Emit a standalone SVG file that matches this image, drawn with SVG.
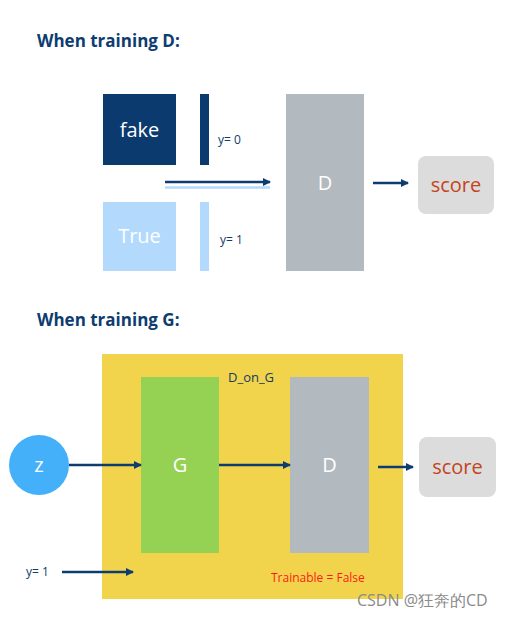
<svg xmlns="http://www.w3.org/2000/svg" width="508" height="618" viewBox="0 0 508 618">
<defs>
<style>
text{font-family:"Open Sans","Noto Sans",sans-serif}
.title{font-size:17px;font-weight:bold;fill:#0e3c70}
.w{fill:#ffffff;font-size:20px;text-anchor:middle}
.lbl{font-size:12px;fill:#123c66}
.score{font-size:20px;fill:#c5441c;text-anchor:middle}
.ln{stroke:#0e3c70;stroke-width:2.5;fill:none}
</style>
<marker id="ah" markerWidth="8" markerHeight="8" refX="7" refY="4" orient="auto" markerUnits="userSpaceOnUse">
<path d="M0,0 L8,4 L0,8 z" fill="#0e3c70"/>
</marker>
</defs>
<rect width="508" height="618" fill="#ffffff"/>
<text class="title" x="37" y="47">When training D:</text>
<text class="title" x="37" y="326">When training G:</text>

<g id="fake"><rect x="103" y="94" width="73" height="71" fill="#0b3a6e"/><text class="w" x="139.5" y="137">fake</text></g>
<g id="fakebar"><rect x="200" y="94" width="9" height="71" fill="#0b3a6e"/><text class="lbl" x="218" y="144">y= 0</text></g>
<g id="true"><rect x="103" y="202" width="73" height="69" fill="#b3d9fd"/><text class="w" x="139.5" y="243">True</text></g>
<g id="truebar"><rect x="200" y="202" width="9" height="69" fill="#b3d9fd"/><text class="lbl" x="220" y="244">y= 1</text></g>
<g id="D1"><rect x="286" y="94" width="78" height="177" fill="#b2b9bf"/><text class="w" x="325" y="190">D</text></g>
<g id="score1"><rect x="418" y="156" width="76" height="58" rx="8" fill="#dcdcdc"/><text class="score" x="456" y="192">score</text></g>

<g id="D_on_G"><rect x="102" y="354" width="301" height="245" fill="#f2d44c"/><text x="228" y="382" font-size="13" fill="#123c66">D_on_G</text><text x="271" y="582" font-size="12" fill="#ff1a1a">Trainable = False</text></g>
<g id="G"><rect x="141" y="377" width="78" height="176" fill="#95d152"/><text class="w" x="180" y="472">G</text></g>
<g id="D2"><rect x="290" y="377" width="79" height="176" fill="#b2b9bf"/><text class="w" x="329.5" y="472">D</text></g>
<g id="z"><circle cx="39" cy="465" r="30" fill="#44b0fa"/><text class="w" x="39" y="472">z</text></g>
<g id="score2"><rect x="419" y="437" width="77" height="60" rx="8" fill="#dcdcdc"/><text class="score" x="457.5" y="474">score</text></g>
<g id="y1label"><text class="lbl" x="26" y="576">y= 1</text></g>

<g id="connectors">
<line x1="165" y1="187.5" x2="270" y2="187.5" stroke="#b3d9fd" stroke-width="2.5"/>
<line class="ln" x1="165" y1="182" x2="270" y2="182" marker-end="url(#ah)"/>
<line class="ln" x1="373" y1="183" x2="408" y2="183" marker-end="url(#ah)"/>
<line class="ln" x1="69" y1="465" x2="141" y2="465" marker-end="url(#ah)"/>
<line class="ln" x1="219" y1="465" x2="290" y2="465" marker-end="url(#ah)"/>
<line class="ln" x1="378" y1="467" x2="413" y2="467" marker-end="url(#ah)"/>
<line class="ln" x1="62" y1="572" x2="133" y2="572" marker-end="url(#ah)"/>
</g>
<text x="357" y="606" font-size="16" fill="#8a8a8a" font-family="'Liberation Sans','Noto Sans CJK SC',sans-serif">CSDN @狂奔的CD</text>
</svg>
